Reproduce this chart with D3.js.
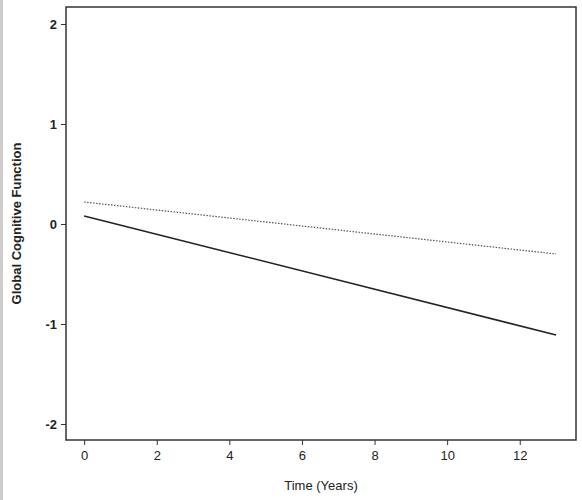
<!DOCTYPE html><html><head><meta charset="utf-8"><script src="https://cdn.jsdelivr.net/npm/d3@7"></script>
<style>body{margin:0;background:#fff}</style></head><body><svg id="c" width="582" height="500"></svg><script>
const xTicks=[0,2,4,6,8,10,12];
const yTicks=[-2,-1,0,1,2];
const years=[0,13];
const solidSeries=[0.08,-1.11];
const dottedSeries=[0.22,-0.30];
const svg=d3.select("#c");
svg.append("rect").attr("x",0).attr("y",0).attr("width",3).attr("height",500).attr("fill","#ccc");
const L=66,R=576,T=7,B=440;
const x=d3.scaleLinear().domain([-0.5,13.55]).range([L,R]);
const y=d3.scaleLinear().domain([-2.16,2.17]).range([B,T]);
svg.append("rect").attr("x",L).attr("y",T).attr("width",R-L).attr("height",B-T).attr("fill","none").attr("stroke","#333").attr("stroke-width",1.5);
const fmt=d=>String(d).replace("\u2212","-");
const xa=svg.append("g").attr("transform",`translate(0,${B})`).call(d3.axisBottom(x).tickValues(xTicks).tickFormat(fmt).tickSize(5).tickPadding(6));
const ya=svg.append("g").attr("transform",`translate(${L},0)`).call(d3.axisLeft(y).tickValues(yTicks).tickFormat(fmt).tickSize(5).tickPadding(4));
[xa,ya].forEach(a=>{a.select(".domain").remove();a.selectAll("line").attr("stroke","#333");a.selectAll("text").attr("font-family","Arial, Liberation Sans").attr("font-size",13).attr("fill","#222");});
ya.selectAll("text").attr("font-weight","bold");
const line=d3.line().x((d,i)=>x(years[i])).y(d=>y(d));
svg.append("path").datum(solidSeries).attr("d",line).attr("stroke","#222").attr("stroke-width",1.5).attr("fill","none");
svg.append("path").datum(dottedSeries).attr("d",line).attr("stroke","#555").attr("stroke-width",1.2).attr("stroke-dasharray","1.5,1.5").attr("fill","none");
svg.append("text").attr("x",(L+R)/2).attr("y",490).attr("text-anchor","middle").attr("font-family","Arial, Liberation Sans").attr("font-size",13).attr("fill","#222").text("Time (Years)");
svg.append("text").attr("transform",`translate(21,${(T+B)/2}) rotate(-90)`).attr("text-anchor","middle").attr("font-family","Arial, Liberation Sans").attr("font-size",13).attr("font-weight","bold").attr("fill","#222").text("Global Cognitive Function");
</script></body></html>
